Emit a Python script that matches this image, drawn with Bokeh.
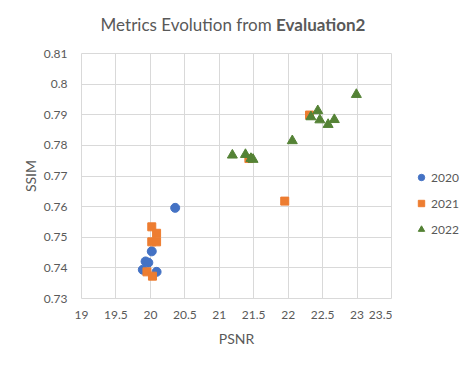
from bokeh.plotting import figure
from bokeh.models import Legend, LegendItem, FixedTicker, Range1d, Div
from bokeh.layouts import column, row
from bokeh.embed import file_html
from bokeh.resources import INLINE

# ---- data ----
x_2020 = [20.36, 20.02, 19.93, 19.97, 19.89, 20.09]
y_2020 = [0.7596, 0.7454, 0.7421, 0.7417, 0.7394, 0.7387]

x_2021 = [20.02, 20.09, 20.02, 20.09, 19.95, 20.03, 21.95, 22.31, 21.43]
y_2021 = [0.7534, 0.7513, 0.7485, 0.7485, 0.7387, 0.7373, 0.7618, 0.7899, 0.7757]

x_2022 = [22.99, 22.43, 22.33, 22.46, 22.67, 22.58, 22.06, 21.19, 21.38, 21.46, 21.49]
y_2022 = [0.7966, 0.7913, 0.7893, 0.7883, 0.7884, 0.7868, 0.7815, 0.7768, 0.7770, 0.7757, 0.7754]

x_ticks = [19, 19.5, 20, 20.5, 21, 21.5, 22, 22.5, 23, 23.5]
x_tick_labels = ["19", "19.5", "20", "20.5", "21", "21.5", "22", "22.5", "23", "23.5"]
y_ticks = [0.73, 0.74, 0.75, 0.76, 0.77, 0.78, 0.79, 0.80, 0.81]
y_tick_labels = ["0.73", "0.74", "0.75", "0.76", "0.77", "0.78", "0.79", "0.8", "0.81"]

series_names = ["2020", "2021", "2022"]
series_colors = ["#4472C4", "#ED7D31", "#548235"]
series_markers = ["circle", "square", "triangle"]
series_sizes = [9, 8, 10]
title_normal = "Metrics Evolution from"
title_bold = "Evaluation2"

FONT = "Lato"
GRAY = "#595959"
GRID = "#d9d9d9"

W = 466
DIV_H = 36
FIG_H = 316
FL, FT, FB = 81, 53, 298  # frame edges in page pixels
PW = 392                  # width of the main plot
MB_TOP = FT - DIV_H
MB_BOTTOM = FIG_H - (FB - DIV_H)

title_div = Div(text=f'{title_normal} <b>{title_bold}</b>', width=W, height=DIV_H,
                styles={"font-family": FONT, "font-size": "17px", "color": GRAY,
                        "text-align": "center", "line-height": "22px", "padding-top": "14px",
                        "width": f"{W}px"},
                margin=(0, 0, 0, 0))

p = figure(width=PW, height=FIG_H, output_backend="svg", toolbar_location=None,
           x_range=Range1d(19, 23.5), y_range=Range1d(0.73, 0.81),
           min_border_left=FL, min_border_right=1, min_border_top=MB_TOP,
           min_border_bottom=MB_BOTTOM, margin=(0, 0, 0, 0))
p.outline_line_color = GRID
p.background_fill_color = "white"
p.border_fill_color = "white"

for ax in (p.xaxis[0], p.yaxis[0]):
    ax.axis_line_color = None
    ax.major_tick_line_color = None
    ax.minor_tick_line_color = None
    ax.major_tick_out = 0
    ax.major_tick_in = 0
    ax.major_label_text_font = FONT
    ax.major_label_text_font_size = "12px"
    ax.major_label_text_color = GRAY
    ax.axis_label_text_font = FONT
    ax.axis_label_text_font_size = "14px"
    ax.axis_label_text_color = GRAY
    ax.axis_label_text_font_style = "normal"

p.xaxis.ticker = FixedTicker(ticks=x_ticks)
p.xaxis.major_label_overrides = {t: l for t, l in zip(x_ticks, x_tick_labels)}
p.yaxis.ticker = FixedTicker(ticks=y_ticks)
p.yaxis.major_label_overrides = {t: l for t, l in zip(y_ticks, y_tick_labels)}
p.xaxis.axis_label = "PSNR"
p.yaxis.axis_label = "SSIM"
p.xaxis.major_label_standoff = 12
p.yaxis.major_label_standoff = 14
p.xaxis.axis_label_standoff = 8
p.yaxis.axis_label_standoff = 2

p.xgrid.ticker = FixedTicker(ticks=x_ticks)
p.ygrid.ticker = FixedTicker(ticks=y_ticks)
p.xgrid.grid_line_color = GRID
p.ygrid.grid_line_color = GRID

series_x = [x_2020, x_2021, x_2022]
series_y = [y_2020, y_2021, y_2022]
for xs, ys, c, m, s in zip(series_x, series_y, series_colors, series_markers, series_sizes):
    p.scatter(xs, ys, marker=m, size=s, fill_color=c, line_color=c)

# legend panel: a companion figure (same frame height) holding a standard Bokeh Legend;
# its own copies of the series lie outside its (0..1) ranges, so only the legend shows
lf = figure(width=W - PW, height=FIG_H, output_backend="svg", toolbar_location=None,
            x_range=Range1d(0, 1), y_range=Range1d(0, 1),
            x_axis_type=None, y_axis_type=None,
            min_border_left=0, min_border_right=0, min_border_top=MB_TOP,
            min_border_bottom=MB_BOTTOM, margin=(0, 0, 0, 0))
lf.outline_line_color = None
lf.grid.visible = False
lf.background_fill_color = "white"
lf.border_fill_color = "white"
leg_renderers = []
for xs, ys, c, m in zip(series_x, series_y, series_colors, series_markers):
    leg_renderers.append(lf.scatter(xs, ys, marker=m, fill_color=c, line_color=c))

legend = Legend(items=[LegendItem(label=n, renderers=[r]) for n, r in zip(series_names, leg_renderers)],
                location=(21, 59), orientation="vertical",
                glyph_width=16, glyph_height=18, label_height=20, spacing=6, padding=10,
                label_standoff=2, label_text_font=FONT, label_text_font_size="12px",
                label_text_color=GRAY, border_line_color=None, background_fill_alpha=0)
lf.add_layout(legend, "center")

layout = column(title_div, row(p, lf, spacing=0, margin=(0, 0, 0, 0)), spacing=0, margin=(0, 0, 0, 0))
open("out.html", "w").write(file_html(layout, INLINE))
